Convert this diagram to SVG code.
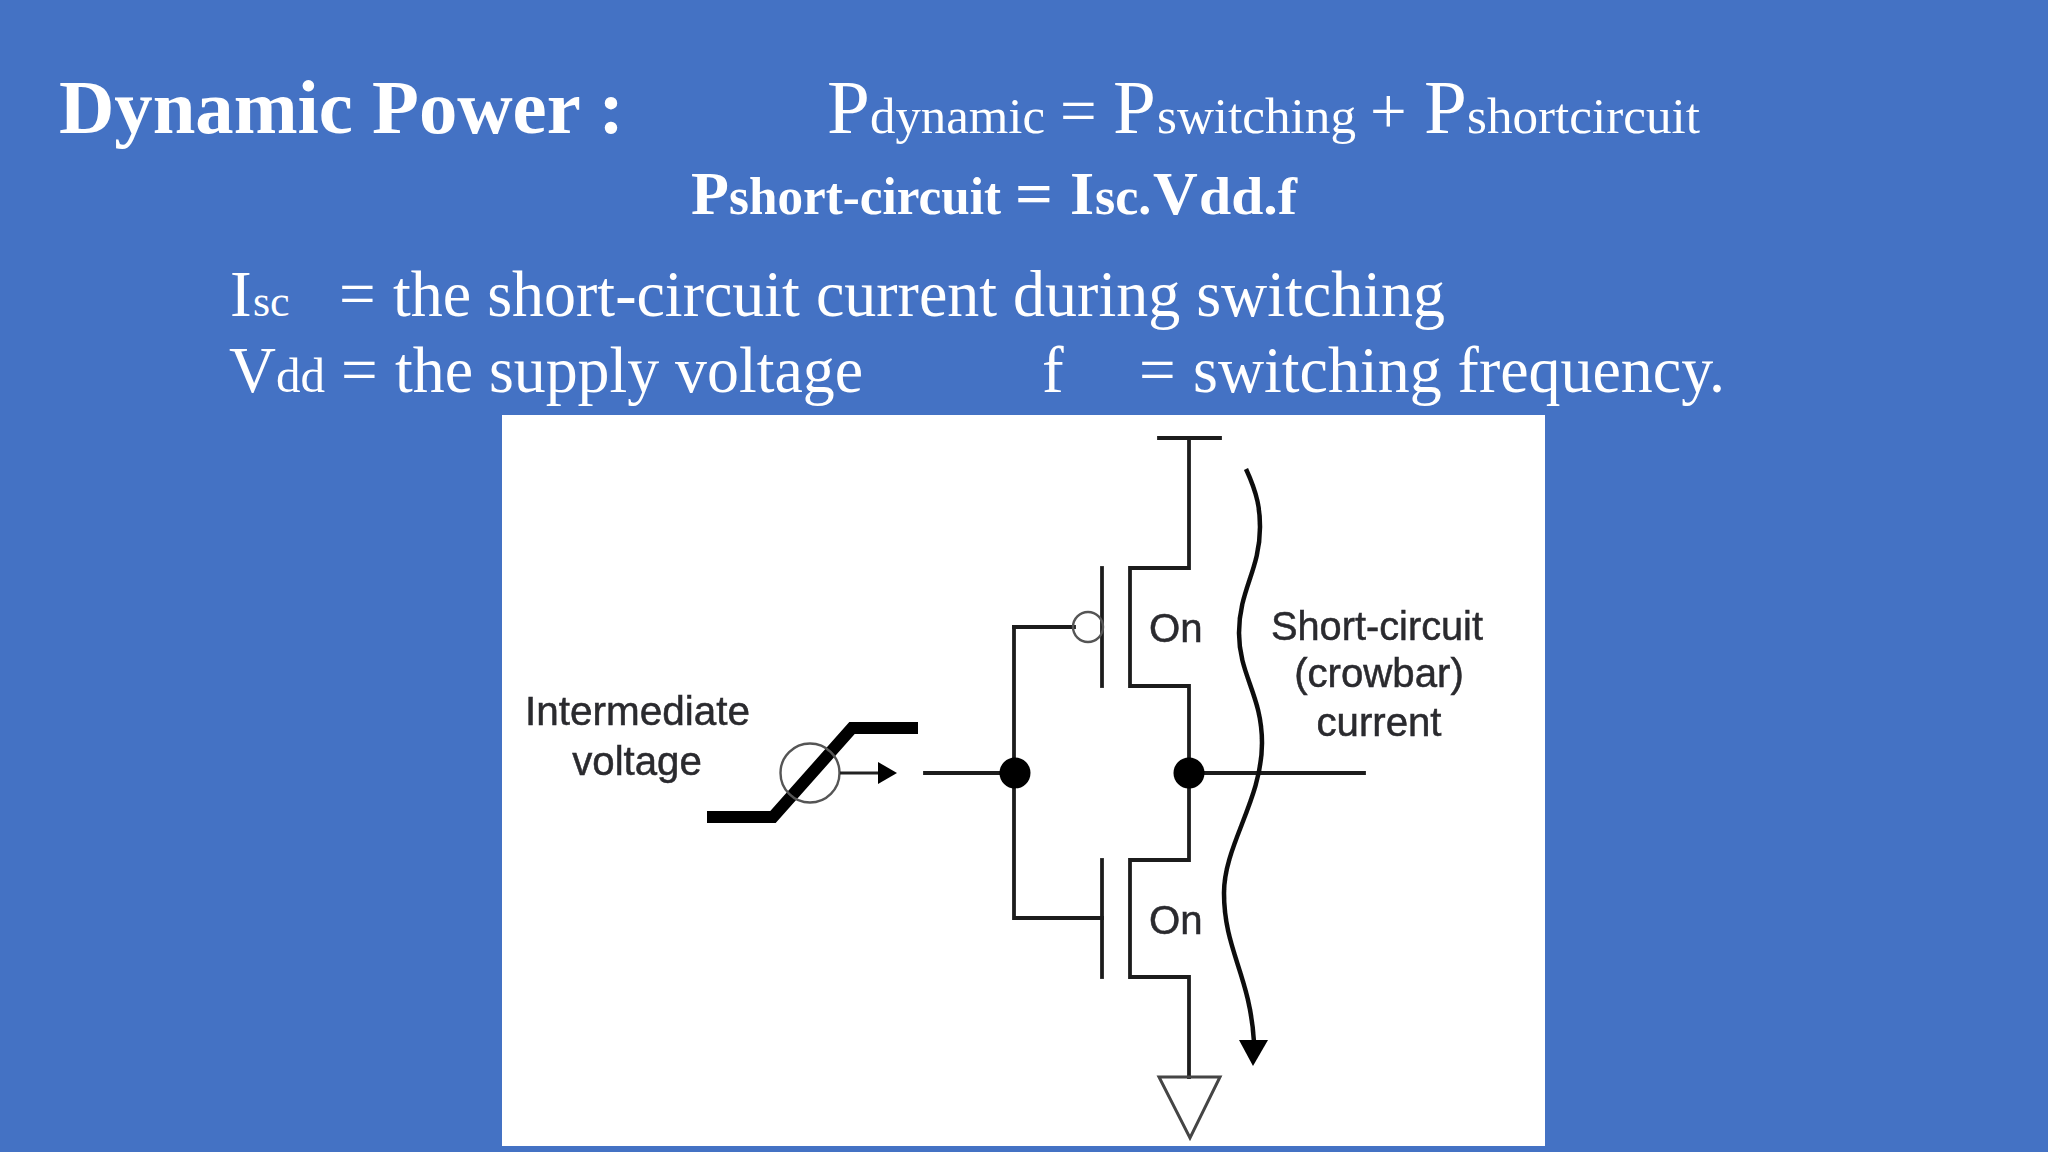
<svg xmlns="http://www.w3.org/2000/svg" width="2048" height="1152" viewBox="0 0 2048 1152">
<style>
.h{font-family:"Liberation Serif","Times New Roman",serif;fill:#fff}
.b{font-weight:bold}
.p77{font-size:77px}
.s50{font-size:50.5px}
.p62{font-size:62px}
.s52{font-size:52px}
.t65{font-size:65px}
.l{font-family:"Liberation Sans",Arial,sans-serif;font-size:40.2px;fill:#2a2a2e;stroke:#2a2a2e;stroke-width:.5}
.m{text-anchor:middle}
.w{fill:none;stroke:#1c1c1c;stroke-width:3.8;stroke-linecap:square;stroke-linejoin:miter}
.g{fill:none;stroke:#555;stroke-width:2.4}
.k{fill:#000}
</style>
<defs><filter id="soft" x="-2%" y="-2%" width="104%" height="104%"><feGaussianBlur stdDeviation="0.7"/></filter></defs>
<rect width="2048" height="1152" fill="#4472c4"/>
<g id="heading">
<text class="h b" x="59" y="133" font-size="77" textLength="565" lengthAdjust="spacingAndGlyphs">Dynamic Power :</text>
<text class="h p77" x="827" y="133">P</text>
<text class="h s50" x="870" y="133" textLength="175" lengthAdjust="spacingAndGlyphs">dynamic</text>
<text class="h t65" x="1060" y="133">=</text>
<text class="h p77" x="1113" y="133">P</text>
<text class="h s50" x="1157" y="133" textLength="199" lengthAdjust="spacingAndGlyphs">switching</text>
<text class="h t65" x="1370" y="133">+</text>
<text class="h p77" x="1424" y="133">P</text>
<text class="h s50" x="1467" y="133" textLength="233" lengthAdjust="spacingAndGlyphs">shortcircuit</text>
</g>
<g id="formula">
<text class="h b p62" x="691" y="214">P</text>
<text class="h b s52" x="729" y="214" textLength="272" lengthAdjust="spacingAndGlyphs">short-circuit</text>
<text class="h b p62" x="1015" y="214" textLength="38" lengthAdjust="spacingAndGlyphs">=</text>
<text class="h b p62" x="1070" y="214">I</text>
<text class="h b s52" x="1095" y="214">sc.</text>
<text class="h b p62" x="1153" y="214">V</text>
<text class="h b s52" x="1199" y="214" textLength="98" lengthAdjust="spacingAndGlyphs">dd.f</text>
</g>
<g id="definitions">
<text class="h t65" x="230" y="316">I</text>
<text class="h" font-size="44" x="253" y="316">sc</text>
<text class="h t65" x="339" y="316">=</text>
<text class="h t65" x="393" y="316" textLength="1052" lengthAdjust="spacingAndGlyphs">the short-circuit current during switching</text>
<text class="h t65" x="229" y="392">V</text>
<text class="h" font-size="49" x="276" y="392">dd</text>
<text class="h t65" x="341" y="392">=</text>
<text class="h t65" x="395" y="392" textLength="468" lengthAdjust="spacingAndGlyphs">the supply voltage</text>
<text class="h t65" x="1042" y="392">f</text>
<text class="h t65" x="1139" y="392">=</text>
<text class="h t65" x="1193" y="392" textLength="532" lengthAdjust="spacingAndGlyphs">switching frequency.</text>
</g>
<rect id="panel" x="502" y="415" width="1043" height="731" fill="#fff"/>
<g filter="url(#soft)">
<g id="connectors">
<path class="w" d="M925 773H1014M1014 627V918H1102M1189 773H1364"/>
<path class="w" d="M1189 438V568H1130V686H1189V860H1130V977H1189V1077"/>
<path class="w" d="M1014 627H1074"/>
<path d="M1246 469C1258 495 1260 510 1260 527C1260 570 1239 590 1239 633C1239 675 1262 695 1262 743C1262 800 1224 845 1224 893C1224 950 1250 975 1254 1042" fill="none" stroke="#111" stroke-width="4.5"/>
<path class="k" d="M1239 1040H1268L1253 1066Z"/>
</g>
<g id="pmos">
<path class="w" d="M1102 568V686"/>
<circle class="g" cx="1088" cy="627" r="15"/>
<text class="l" x="1149" y="642">On</text>
</g>
<g id="nmos">
<path class="w" d="M1102 860V977"/>
<text class="l" x="1149" y="934">On</text>
</g>
<g id="vdd"><path class="w" d="M1159 438H1220"/></g>
<g id="gnd"><path d="M1159 1077H1220L1190 1138Z" fill="none" stroke="#444" stroke-width="3"/></g>
<g id="node-input"><circle class="k" cx="1015" cy="773" r="15.5"/></g>
<g id="node-output"><circle class="k" cx="1189" cy="773" r="15.5"/></g>
<g id="ramp">
<path d="M707 817H773L852 728H918" fill="none" stroke="#000" stroke-width="12"/>
<circle class="g" cx="810" cy="773" r="29.5"/>
<path d="M840 773H880" fill="none" stroke="#222" stroke-width="3"/>
<path class="k" d="M878 762L897 773L878 784Z"/>
</g>
<g id="label-intermediate">
<text class="l" x="525" y="725" textLength="225" lengthAdjust="spacingAndGlyphs">Intermediate</text>
<text class="l m" x="637" y="775">voltage</text>
</g>
<g id="label-current">
<text class="l" x="1271" y="640" textLength="212" lengthAdjust="spacingAndGlyphs">Short-circuit</text>
<text class="l m" x="1379" y="687">(crowbar)</text>
<text class="l m" x="1379" y="736">current</text>
</g>
</g>
</svg>
